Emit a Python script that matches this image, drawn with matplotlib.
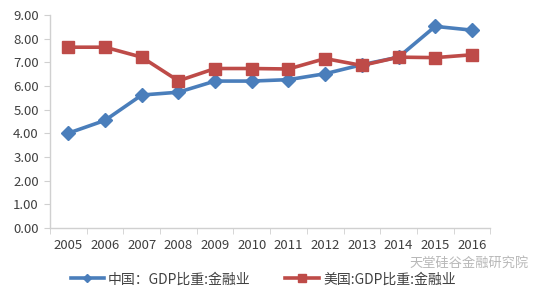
import matplotlib
matplotlib.use("Agg")
import matplotlib.pyplot as plt
from matplotlib.ticker import FixedLocator

plt.rcParams['font.family'] = ['Noto Sans CJK SC', 'DejaVu Sans']

years = ['2005', '2006', '2007', '2008', '2009', '2010', '2011', '2012', '2013', '2014', '2015', '2016']
china = [4.01, 4.55, 5.62, 5.74, 6.21, 6.21, 6.27, 6.52, 6.90, 7.22, 8.52, 8.36]
usa = [7.64, 7.64, 7.22, 6.22, 6.74, 6.74, 6.72, 7.16, 6.87, 7.22, 7.20, 7.32]
label_cn = '中国：GDP比重:金融业'
label_us = '美国:GDP比重:金融业'
yticks = [0, 1, 2, 3, 4, 5, 6, 7, 8, 9]

fig = plt.figure(figsize=(5.37, 2.94), dpi=100)
ax = fig.add_axes([0.093, 0.224, 0.82, 0.725])

x = list(range(len(years)))
l1, = ax.plot(x, china, color='#4a7ebb', lw=2.6, marker='D', ms=7, mec='#4a7ebb', label=label_cn)
l2, = ax.plot(x, usa, color='#be4b48', lw=2.6, marker='s', ms=9, mec='#be4b48', label=label_us)

ax.set_xlim(-0.5, len(years) - 0.5)
ax.set_ylim(0, 9)
ax.set_xticks(x)
ax.set_xticklabels(years)
ax.xaxis.set_minor_locator(FixedLocator([i - 0.5 for i in range(len(years) + 1)]))
ax.tick_params(axis='x', which='major', length=0, pad=8, labelsize=9.5, labelcolor='#404040')
ax.tick_params(axis='x', which='minor', length=4, color='#d0d0d0', direction='out')
ax.set_yticks(yticks)
ax.set_yticklabels([f'{v:.2f}' for v in yticks])
ax.tick_params(axis='y', length=4, color='#d0d0d0', labelsize=9.5, labelcolor='#404040', pad=4)
for s in ['top', 'right']:
    ax.spines[s].set_visible(False)
for s in ['left', 'bottom']:
    ax.spines[s].set_color('#d0d0d0')
    ax.spines[s].set_linewidth(1)

fig.legend(handles=[l1, l2], loc='center', bbox_to_anchor=(0.49, 0.05), ncol=2, frameon=False,
           fontsize=10, handlelength=2.4, handletextpad=0.3, columnspacing=2.5,
           labelcolor='#404040', markerscale=0.6)

fig.text(0.985, 0.105, '天堂硅谷金融研究院', fontsize=9.5, color='#b8b8b8', va='center', ha='right')

fig.savefig('out.png', dpi=100)
